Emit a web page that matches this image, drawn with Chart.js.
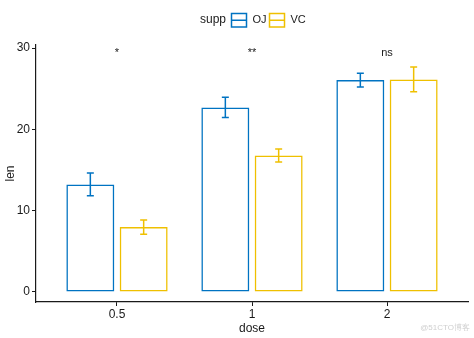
<!DOCTYPE html>
<html>
<head>
<meta charset="utf-8">
<script src="https://cdn.jsdelivr.net/npm/chart.js@4"></script>
<style>
html,body{margin:0;padding:0;background:#fff;}
#wrap{width:474px;height:338px;position:relative;}
</style>
</head>
<body>
<div id="wrap"><canvas id="c" width="474" height="338"></canvas></div>
<script>
const doseLabels = ['0.5', '1', '2'];
const dosePos = [1, 2, 3];
const ojMeans = [13.23, 22.70, 26.06];
const vcMeans = [7.98, 16.77, 26.14];
const ojSE = [1.41, 1.24, 0.84];
const vcSE = [0.87, 0.80, 1.52];
const sigLabels = ['*', '**', 'ns'];
const sigY = 29;
const seriesNames = ['OJ', 'VC'];
const legendTitle = 'supp';

const BLUE = '#0073C2';
const YELLOW = '#EFC000';
const FONT = '"Liberation Sans", Arial, Helvetica, sans-serif';

const errorBars = {
  id: 'errorBars',
  afterDatasetsDraw(chart) {
    const ctx = chart.ctx;
    const ys = chart.scales.y;
    chart.data.datasets.forEach((ds, i) => {
      const meta = chart.getDatasetMeta(i);
      meta.data.forEach((el, j) => {
        const m = ds.data[j].y, s = ds.se[j];
        const yT = ys.getPixelForValue(m + s), yB = ys.getPixelForValue(m - s);
        ctx.save();
        ctx.strokeStyle = ds.borderColor;
        ctx.lineWidth = 1.5;
        ctx.beginPath();
        ctx.moveTo(el.x, yT); ctx.lineTo(el.x, yB);
        ctx.moveTo(el.x - 3.5, yT); ctx.lineTo(el.x + 3.5, yT);
        ctx.moveTo(el.x - 3.5, yB); ctx.lineTo(el.x + 3.5, yB);
        ctx.stroke();
        ctx.restore();
      });
    });
    const xs = chart.scales.x;
    ctx.save();
    ctx.fillStyle = '#1a1a1a';
    ctx.font = '11px ' + FONT;
    ctx.textAlign = 'center';
    ctx.textBaseline = 'alphabetic';
    sigLabels.forEach((t, k) => {
      ctx.fillText(t, xs.getPixelForValue(dosePos[k]), ys.getPixelForValue(sigY));
    });
    ctx.restore();
  },
  afterDraw(chart) {
    const ctx = chart.ctx;
    ctx.save();
    ctx.textBaseline = 'middle';
    ctx.fillStyle = '#1a1a1a';
    ctx.font = '12px ' + FONT;
    ctx.textAlign = 'left';
    ctx.fillText(legendTitle, 200, 20);
    let x = 231.5;
    chart.data.datasets.forEach((ds) => {
      ctx.strokeStyle = ds.borderColor;
      ctx.lineWidth = 1.5;
      ctx.strokeRect(x, 13.5, 15, 13.5);
      ctx.beginPath();
      ctx.moveTo(x, 20.25); ctx.lineTo(x + 15, 20.25);
      ctx.stroke();
      ctx.fillStyle = '#1a1a1a';
      ctx.font = '11px ' + FONT;
      ctx.fillText(ds.label, x + 21, 20);
      x += 38;
    });
    ctx.fillStyle = 'rgba(160,160,160,0.5)';
    ctx.font = '8px ' + FONT;
    ctx.textAlign = 'right';
    ctx.fillText('@51CTO博客', 470, 328);
    ctx.restore();
  }
};

function mk(means) { return means.map((v, i) => ({x: dosePos[i], y: v})); }

new Chart(document.getElementById('c'), {
  type: 'bar',
  data: {
    datasets: [
      {label: seriesNames[0], data: mk(ojMeans), se: ojSE, borderColor: BLUE, backgroundColor: 'rgba(255,255,255,0)', borderWidth: 1.5, borderSkipped: false},
      {label: seriesNames[1], data: mk(vcMeans), se: vcSE, borderColor: YELLOW, backgroundColor: 'rgba(255,255,255,0)', borderWidth: 1.5, borderSkipped: false}
    ]
  },
  plugins: [errorBars],
  options: {
    responsive: false,
    animation: false,
    datasets: {bar: {categoryPercentage: 0.79, barPercentage: 0.9}},
    layout: {padding: {top: 45, right: 6, left: 0, bottom: 0}},
    plugins: {legend: {display: false}, tooltip: {enabled: false}},
    scales: {
      x: {
        type: 'linear',
        offset: false,
        min: 0.4, max: 3.6,
        afterBuildTicks(s) { s.ticks = dosePos.map(v => ({value: v})); },
        afterFit(s) { s.height = 36; },
        ticks: {
          callback: (v) => doseLabels[dosePos.indexOf(v)],
          color: '#1a1a1a', font: {size: 12, family: FONT}, padding: 1, maxRotation: 0
        },
        grid: {display: true, offset: false, drawOnChartArea: false, tickLength: 4, tickColor: '#1a1a1a', tickWidth: 1},
        border: {display: true, color: '#1a1a1a', width: 1.2},
        title: {display: true, text: 'dose', color: '#1a1a1a', font: {size: 12, family: FONT}, padding: {top: 0, bottom: 2}}
      },
      y: {
        min: -1.23, max: 30.37,
        afterBuildTicks(s) { s.ticks = [0, 10, 20, 30].map(v => ({value: v})); },
        afterFit(s) { s.width = 36; },
        ticks: {color: '#1a1a1a', font: {size: 12, family: FONT}, padding: 2},
        grid: {display: true, drawOnChartArea: false, tickLength: 4, tickColor: '#1a1a1a', tickWidth: 1},
        border: {display: true, color: '#1a1a1a', width: 1.2},
        title: {display: true, text: 'len', color: '#1a1a1a', font: {size: 12, family: FONT}, padding: {top: 3, bottom: 0}}
      }
    }
  }
});
</script>
</body>
</html>
